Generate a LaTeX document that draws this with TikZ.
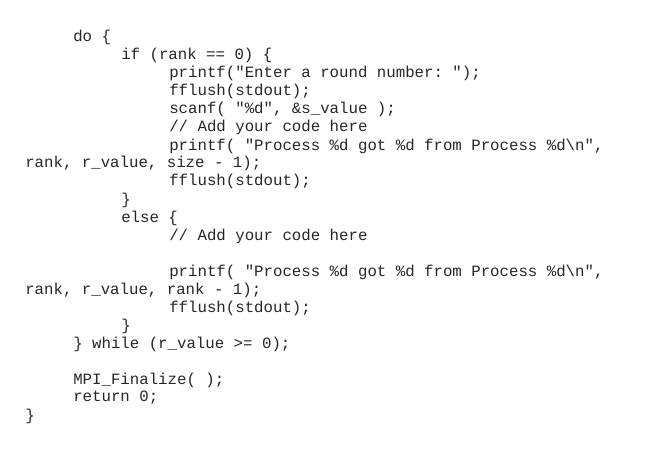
\documentclass[tikz,border=0pt]{standalone}
\usepackage{fontspec}
\setmonofont{Liberation Mono}
\tikzset{%
  code/.style={anchor=west, inner sep=0pt, font=\ttfamily\fontsize{11.8}{14}\selectfont, text=black!85},
}
\begin{document}
\begin{tikzpicture}[x=0.75pt,y=-0.75pt]
  \useasboundingbox (0,0) rectangle (672,449);
  % outer loop
  \node[code] (l1) at (73,37) {do \{};
  \node[code] (l2) at (121,55) {if (rank == 0) \{};
  \node[code] (l3) at (169,73) {printf("Enter a round number: ");};
  \node[code] (l4) at (169,91) {fflush(stdout);};
  \node[code] (l5) at (169,109) {scanf( "\%d", \&s\_value );};
  \node[code] (l6) at (169,127) {// Add your code here};
  \node[code] (l7) at (169,146) {printf( "Process \%d got \%d from Process \%d\textbackslash n",};
  \node[code] (l8) at (25,163) {rank, r\_value, size - 1);};
  \node[code] (l9) at (169,181) {fflush(stdout);};
  \node[code] (l10) at (121,200) {\}};
  % else branch
  \node[code] (l11) at (121,218) {else \{};
  \node[code] (l12) at (169,236) {// Add your code here};
  \node[code] (l13) at (169,272) {printf( "Process \%d got \%d from Process \%d\textbackslash n",};
  \node[code] (l14) at (25,290) {rank, r\_value, rank - 1);};
  \node[code] (l15) at (169,308) {fflush(stdout);};
  \node[code] (l16) at (121,326) {\}};
  \node[code] (l17) at (73,344) {\} while (r\_value >= 0);};
  % finish
  \node[code] (l18) at (73,380) {MPI\_Finalize( );};
  \node[code] (l19) at (73,398) {return 0;};
  \node[code] (l20) at (25,416) {\}};
\end{tikzpicture}
\end{document}
